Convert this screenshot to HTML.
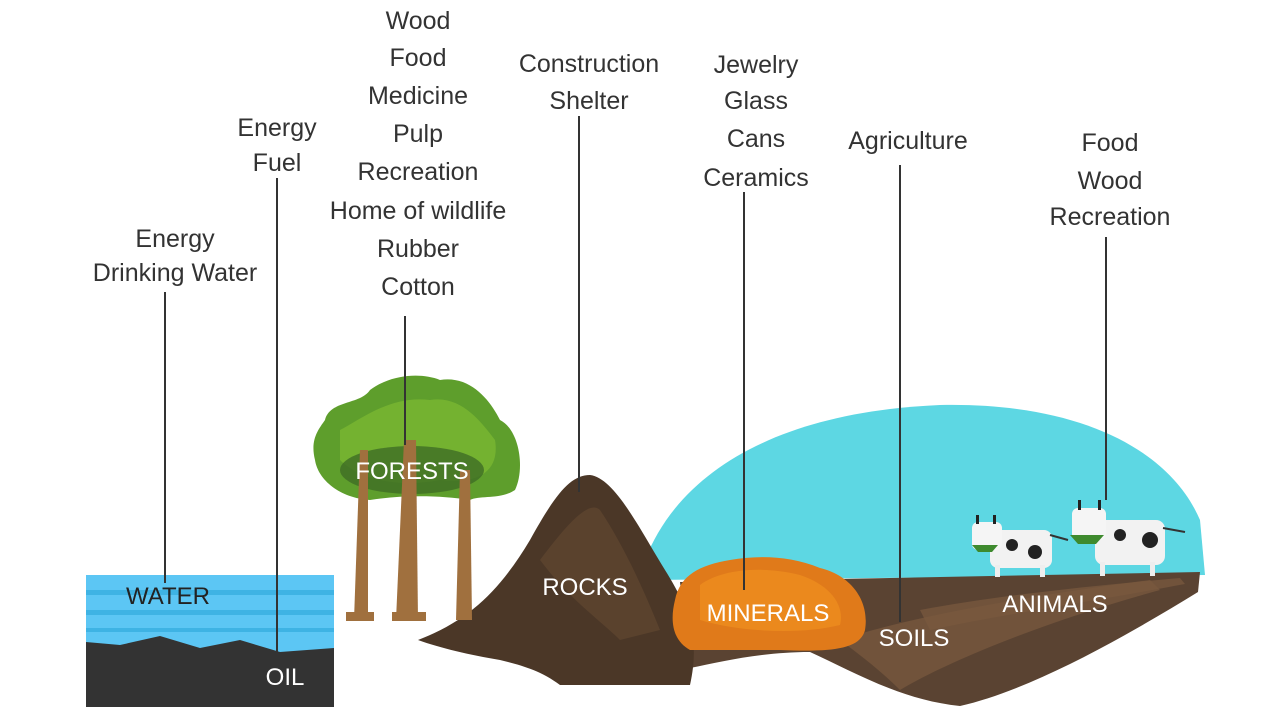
<!DOCTYPE html>
<html><head><meta charset="utf-8"><style>
html,body{margin:0;padding:0;background:#fff;}
svg{display:block}
text{font-family:"Liberation Sans",sans-serif;}
.t{font-size:25px;fill:#333;text-anchor:middle;}
.l{font-size:24px;fill:#fff;text-anchor:middle;}
</style></head><body>
<svg width="1280" height="720" viewBox="0 0 1280 720" xmlns="http://www.w3.org/2000/svg">
<!-- sky blob -->
<path d="M645,560 C680,470 780,412 940,405 C1080,402 1170,450 1200,520 L1205,575 L645,580 Z" fill="#5dd7e3"/>
<!-- ground -->
<path d="M680,582 L1200,572 L1198,592 C1120,640 1030,690 960,706 C900,700 850,670 810,652 C760,652 720,662 690,668 Z" fill="#5a4332"/>
<path d="M840,640 C900,620 1000,600 1150,580 L1160,590 C1050,620 950,660 900,690 C880,670 860,655 840,640 Z" fill="#7a5a3e" opacity="0.7"/>
<path d="M920,610 C1000,595 1100,585 1180,578 L1185,584 C1100,600 1000,615 930,630 Z" fill="#7a5a3e" opacity="0.7"/>
<!-- rocks -->
<path d="M418,640 C470,620 500,590 530,540 C555,495 570,475 590,475 C615,478 640,530 665,570 C690,610 700,640 690,685 L560,685 C540,670 520,665 500,660 C470,655 440,648 418,640 Z" fill="#4b3727"/>
<path d="M540,560 C570,520 590,500 600,510 C620,540 640,580 660,630 L620,640 C600,620 570,600 540,560 Z" fill="#5e4530" opacity="0.8"/>
<!-- minerals -->
<path d="M675,600 C680,575 700,565 730,560 C760,555 790,556 820,568 C850,575 870,600 865,630 C860,650 830,652 780,650 L690,650 C672,640 670,620 675,600 Z" fill="#e07a1a"/>
<path d="M700,585 C720,570 760,565 800,575 C830,585 845,605 840,625 C800,635 740,632 700,620 Z" fill="#f0901f" opacity="0.7"/>
<!-- water -->
<rect x="86" y="567" width="248" height="140" fill="#5cc6f4"/>
<path d="M86,567 C120,560 160,570 200,563 C250,558 290,570 334,563 L334,575 L86,575 Z" fill="#fff"/>
<rect x="86" y="590" width="248" height="5" fill="#3eb3e4"/>
<rect x="86" y="610" width="248" height="5" fill="#3eb3e4"/>
<rect x="86" y="628" width="248" height="4" fill="#3eb3e4"/>
<path d="M86,642 L120,645 L160,636 L200,648 L240,640 L280,652 L334,648 L334,707 L86,707 Z" fill="#333"/>
<!-- trees -->
<path d="M325,420 C330,400 360,405 370,390 C390,375 420,372 440,380 C470,375 490,400 500,420 C520,430 525,470 515,490 C500,500 480,495 470,500 C440,495 400,495 370,500 C340,498 318,480 315,460 C310,440 318,430 325,420 Z" fill="#5e9e2c"/>
<path d="M340,430 C360,420 390,395 430,400 C460,395 480,420 495,440 C500,470 480,485 440,480 C400,488 360,480 340,460 Z" fill="#79b632" opacity="0.8"/>
<ellipse cx="412" cy="470" rx="72" ry="24" fill="#3f6d25" opacity="0.8"/>
<path d="M354,620 L360,450 L368,450 L368,620 Z" fill="#a0703e"/>
<path d="M396,620 L404,440 L416,440 L418,620 Z" fill="#a0703e"/>
<path d="M456,620 L460,470 L470,470 L472,620 Z" fill="#a0703e"/>
<rect x="346" y="612" width="28" height="9" fill="#a0703e"/>
<rect x="392" y="612" width="34" height="9" fill="#a0703e"/>
<!-- cows -->
<g>
<rect x="990" y="530" width="62" height="38" rx="8" fill="#f2f2f2"/>
<circle cx="1012" cy="545" r="6" fill="#222"/><circle cx="1035" cy="552" r="7" fill="#222"/>
<rect x="995" y="565" width="5" height="12" fill="#eee"/><rect x="1040" y="565" width="5" height="12" fill="#eee"/>
<rect x="972" y="522" width="30" height="28" rx="6" fill="#f5f5f5"/>
<rect x="976" y="515" width="3" height="9" fill="#222"/><rect x="993" y="515" width="3" height="9" fill="#222"/>
<path d="M972,545 L998,545 L992,552 L978,552 Z" fill="#3e8a2e"/>
<path d="M1050,535 L1068,540" stroke="#333" stroke-width="2"/>
</g>
<g>
<rect x="1095" y="520" width="70" height="45" rx="9" fill="#f2f2f2"/>
<circle cx="1120" cy="535" r="6" fill="#222"/><circle cx="1150" cy="540" r="8" fill="#222"/>
<rect x="1100" y="562" width="5" height="14" fill="#eee"/><rect x="1150" y="562" width="5" height="14" fill="#eee"/>
<rect x="1072" y="508" width="34" height="32" rx="6" fill="#f5f5f5"/>
<rect x="1078" y="500" width="3" height="10" fill="#222"/><rect x="1098" y="500" width="3" height="10" fill="#222"/>
<path d="M1070,535 L1104,535 L1096,544 L1078,544 Z" fill="#3e8a2e"/>
<path d="M1163,528 L1185,532" stroke="#333" stroke-width="2"/>
</g>
<!-- connector lines -->
<g stroke="#333" stroke-width="2">
<line x1="165" y1="292" x2="165" y2="583"/>
<line x1="277" y1="178" x2="277" y2="653"/>
<line x1="405" y1="316" x2="405" y2="445"/>
<line x1="579" y1="116" x2="579" y2="492"/>
<line x1="744" y1="192" x2="744" y2="590"/>
<line x1="900" y1="165" x2="900" y2="622"/>
<line x1="1106" y1="237" x2="1106" y2="500"/>
</g>
<!-- labels -->
<text class="t" x="175" y="247">Energy</text>
<text class="t" x="175" y="281">Drinking Water</text>
<text class="t" x="277" y="136">Energy</text>
<text class="t" x="277" y="171">Fuel</text>
<text class="t" x="418" y="29">Wood</text>
<text class="t" x="418" y="66">Food</text>
<text class="t" x="418" y="104">Medicine</text>
<text class="t" x="418" y="142">Pulp</text>
<text class="t" x="418" y="180">Recreation</text>
<text class="t" x="418" y="219">Home of wildlife</text>
<text class="t" x="418" y="257">Rubber</text>
<text class="t" x="418" y="295">Cotton</text>
<text class="t" x="589" y="72">Construction</text>
<text class="t" x="589" y="109">Shelter</text>
<text class="t" x="756" y="73">Jewelry</text>
<text class="t" x="756" y="109">Glass</text>
<text class="t" x="756" y="147">Cans</text>
<text class="t" x="756" y="186">Ceramics</text>
<text class="t" x="908" y="149">Agriculture</text>
<text class="t" x="1110" y="151">Food</text>
<text class="t" x="1110" y="189">Wood</text>
<text class="t" x="1110" y="225">Recreation</text>
<text class="l" x="168" y="604" style="fill:#222">WATER</text>
<text class="l" x="285" y="685">OIL</text>
<text class="l" x="412" y="479">FORESTS</text>
<text class="l" x="585" y="595">ROCKS</text>
<text class="l" x="768" y="621">MINERALS</text>
<text class="l" x="914" y="646">SOILS</text>
<text class="l" x="1055" y="612">ANIMALS</text>
</svg>
</body></html>
